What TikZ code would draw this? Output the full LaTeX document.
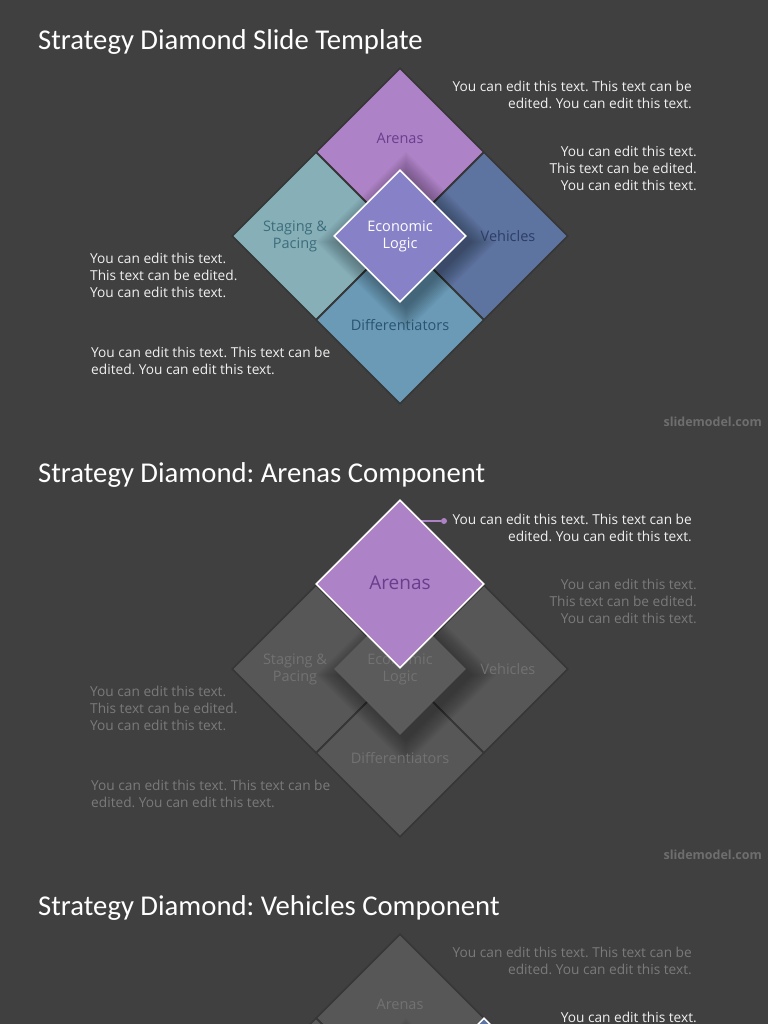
\documentclass[tikz,border=0pt]{standalone}
\usepackage{fontspec}
\setmainfont{Open Sans}
\newfontfamily\titlefont{Carlito}
\usetikzlibrary{shapes.geometric}
\definecolor{bg}{HTML}{404040}
\definecolor{gapc}{HTML}{363636}
\definecolor{arC}{HTML}{AE82C6}
\definecolor{stC}{HTML}{86AFB8}
\definecolor{veC}{HTML}{5D73A0}
\definecolor{diC}{HTML}{6A9AB6}
\definecolor{ecC}{HTML}{8781C8}
\definecolor{arT}{HTML}{6A3D8E}
\definecolor{stT}{HTML}{3E6C7B}
\definecolor{veT}{HTML}{2D3E66}
\definecolor{diT}{HTML}{2A5470}
\definecolor{grQ}{HTML}{575757}
\definecolor{grE}{HTML}{5B5B5B}
\definecolor{grT}{HTML}{727272}
\definecolor{txW}{HTML}{F0F0F0}
\definecolor{txG}{HTML}{7A7A7A}
\definecolor{wm}{HTML}{6E6E6E}
\newcommand\cshadow[2]{%
  \foreach \s in {0,2,...,24}{%
    \fill[black,opacity=0.028] ({#1+6},{#2-66-\s+6}) -- ({#1+66+\s+6},{#2+6}) -- ({#1+6},{#2+66+\s+6}) -- ({#1-66-\s+6},{#2+6}) -- cycle;}}
\tikzset{
  quad/.style={diamond, minimum width=168pt, minimum height=168pt, inner sep=0pt, draw=gapc, line width=1.6pt},
  cen/.style={diamond, minimum width=132pt, minimum height=132pt, inner sep=0pt},
  hil/.style={draw=white, line width=1.6pt},
  lab/.style={font=\fontsize{14.5}{17}\selectfont, align=center, inner sep=0pt},
  big/.style={font=\fontsize{19}{22}\selectfont, align=center, inner sep=0pt},
  txt/.style={font=\fontsize{13.7}{17}\selectfont, inner sep=0pt},
  ttl/.style={font=\titlefont\fontsize{28.7}{32}\selectfont, text=white, anchor=west, inner sep=0pt},
  wmk/.style={font=\bfseries\fontsize{12.5}{14}\selectfont, text=wm, anchor=east, inner sep=0pt}
}
\begin{document}
\frenchspacing
\begin{tikzpicture}[x=1pt,y=-1pt]
\useasboundingbox (0,0) rectangle (768,1024);
\clip (0,0) rectangle (768,1024);
\fill[bg] (0,0) rectangle (768,1024);

% ---------- Panel 1 ----------
\node[ttl] (a-title) at (38,42) {Strategy Diamond Slide Template};
\node[quad, fill=arC] (a-ar) at (400,152) {};
\node[quad, fill=stC] (a-st) at (316,236) {};
\node[quad, fill=veC] (a-ve) at (484,236) {};
\node[quad, fill=diC] (a-di) at (400,320) {};
\cshadow{400}{236}
\node[cen, fill=ecC, hil] (a-ec) at (400,236) {};
\node[lab, text=arT] (a-arl) at (400,138) {Arenas};
\node[lab, text=stT] (a-stl) at (295,236) {Staging \&\\Pacing};
\node[lab, text=veT] (a-vel) at (508,236) {Vehicles};
\node[lab, text=diT] (a-dil) at (400,325) {Differentiators};
\node[lab, text=white] (a-ecl) at (400,236) {Economic\\Logic};
\node[txt, text=txW, align=right, anchor=east] (a-t1) at (692,94.5) {You can edit this text. This text can be\\edited. You can edit this text.};
\node[txt, text=txW, align=right, anchor=east] (a-t2) at (697,168) {You can edit this text.\\This text can be edited.\\You can edit this text.};
\node[txt, text=txW, align=left, anchor=west] (a-t3) at (90,275) {You can edit this text.\\This text can be edited.\\You can edit this text.};
\node[txt, text=txW, align=left, anchor=west] (a-t4) at (91,360.5) {You can edit this text. This text can be\\edited. You can edit this text.};
\node[wmk] (a-wm) at (762,422) {slidemodel.com};

% ---------- Panel 2 ----------
\begin{scope}[shift={(0,433)}]
\node[ttl] (b-title) at (38,42) {Strategy Diamond: Arenas Component};
\node[quad, fill=grQ] (b-ar) at (400,152) {};
\node[quad, fill=grQ] (b-st) at (316,236) {};
\node[quad, fill=grQ] (b-ve) at (484,236) {};
\node[quad, fill=grQ] (b-di) at (400,320) {};
\cshadow{400}{236}
\node[cen, fill=grE] (b-ec) at (400,236) {};
\node[lab, text=grT] (b-stl) at (295,236) {Staging \&\\Pacing};
\node[lab, text=grT] (b-vel) at (508,236) {Vehicles};
\node[lab, text=grT] (b-dil) at (400,325) {Differentiators};
\node[lab, text=grT] (b-ecl) at (400,236) {Economic\\Logic};
\node[circle, fill=arC, inner sep=0pt, minimum size=6pt] (b-dot) at (444,88) {};
\draw[arC, line width=1.3pt] (b-ar.center |- b-dot) -- (b-dot);
\node[quad, fill=arC, hil] (b-arh) at (400,151) {};
\node[big, text=arT] (b-arl) at (400,150) {Arenas};
\node[txt, text=txW, align=right, anchor=east] (b-t1) at (692,94.5) {You can edit this text. This text can be\\edited. You can edit this text.};
\node[txt, text=txG, align=right, anchor=east] (b-t2) at (697,168) {You can edit this text.\\This text can be edited.\\You can edit this text.};
\node[txt, text=txG, align=left, anchor=west] (b-t3) at (90,275) {You can edit this text.\\This text can be edited.\\You can edit this text.};
\node[txt, text=txG, align=left, anchor=west] (b-t4) at (91,360.5) {You can edit this text. This text can be\\edited. You can edit this text.};
\node[wmk] (b-wm) at (762,422) {slidemodel.com};
\end{scope}

% ---------- Panel 3 ----------
\begin{scope}[shift={(0,866)}]
\node[ttl] (c-title) at (38,42) {Strategy Diamond: Vehicles Component};
\node[quad, fill=grQ] (c-ar) at (400,152) {};
\node[quad, fill=grQ] (c-st) at (316,236) {};
\node[quad, fill=grQ] (c-ve) at (484,236) {};
\node[quad, fill=grQ] (c-di) at (400,320) {};
\cshadow{400}{236}
\node[cen, fill=grE] (c-ec) at (400,236) {};
\node[lab, text=grT] (c-arl) at (400,138) {Arenas};
\node[quad, fill=veC, hil] (c-veh) at (484,236) {};
\node[txt, text=txG, align=right, anchor=east] (c-t1) at (692,94.5) {You can edit this text. This text can be\\edited. You can edit this text.};
\node[txt, text=txW, align=right, anchor=east] (c-t2) at (697,151) {You can edit this text.};
\end{scope}
\end{tikzpicture}
\end{document}
